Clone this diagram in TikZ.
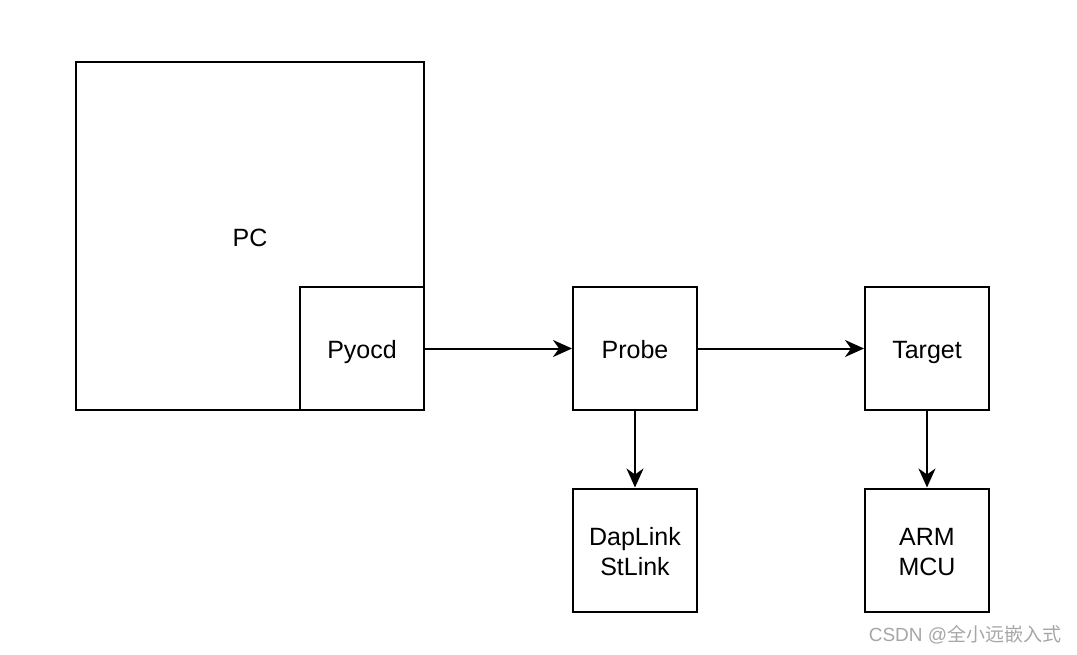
\documentclass[tikz,border=0pt]{standalone}
\usepackage{fontspec}
\setmainfont{Liberation Sans}
\newfontfamily\cjk{Noto Sans CJK SC}
\usetikzlibrary{arrows.meta}
\begin{document}
\begin{tikzpicture}[x=1pt,y=-1pt,
  box/.style={draw,line width=2pt,inner sep=0pt,minimum width=124pt,minimum height=123pt,align=center,font=\fontsize{25}{30}\selectfont},
  one/.style={text height=26pt,text depth=5pt},
  txt/.style={align=center,font=\fontsize{25}{30}\selectfont},
  arr/.style={-{Stealth[length=19pt,width=17pt,inset=6pt]},line width=2pt}]
\useasboundingbox (0,0) rectangle (1077,655);
\node[draw,line width=2pt,minimum width=348pt,minimum height=348pt,inner sep=0pt] (pc) at (250,236) {};
\node[txt] (pcl) at (250,238) {PC};
\node[box,one,fill=white] (py) at (362,348.5) {Pyocd};
\node[box,one] (pr) at (635,348.5) {Probe};
\node[box,one] (tg) at (927,348.5) {Target};
\node[box] (dl) at (635,550) {};
\node[txt] (dlt) at (635,552) {DapLink\\StLink};
\node[box] (arm) at (927,550) {};
\node[txt] (armt) at (927,552) {ARM\\MCU};
\draw[arr] (py) -- (pr);
\draw[arr] (pr) -- (tg);
\draw[arr] (pr) -- (dl);
\draw[arr] (tg) -- (arm);
\node[text=gray!70,font=\fontsize{19}{22}\selectfont] (wm) at (965,635) {CSDN @{\cjk 全小远嵌入式}};
\end{tikzpicture}
\end{document}
